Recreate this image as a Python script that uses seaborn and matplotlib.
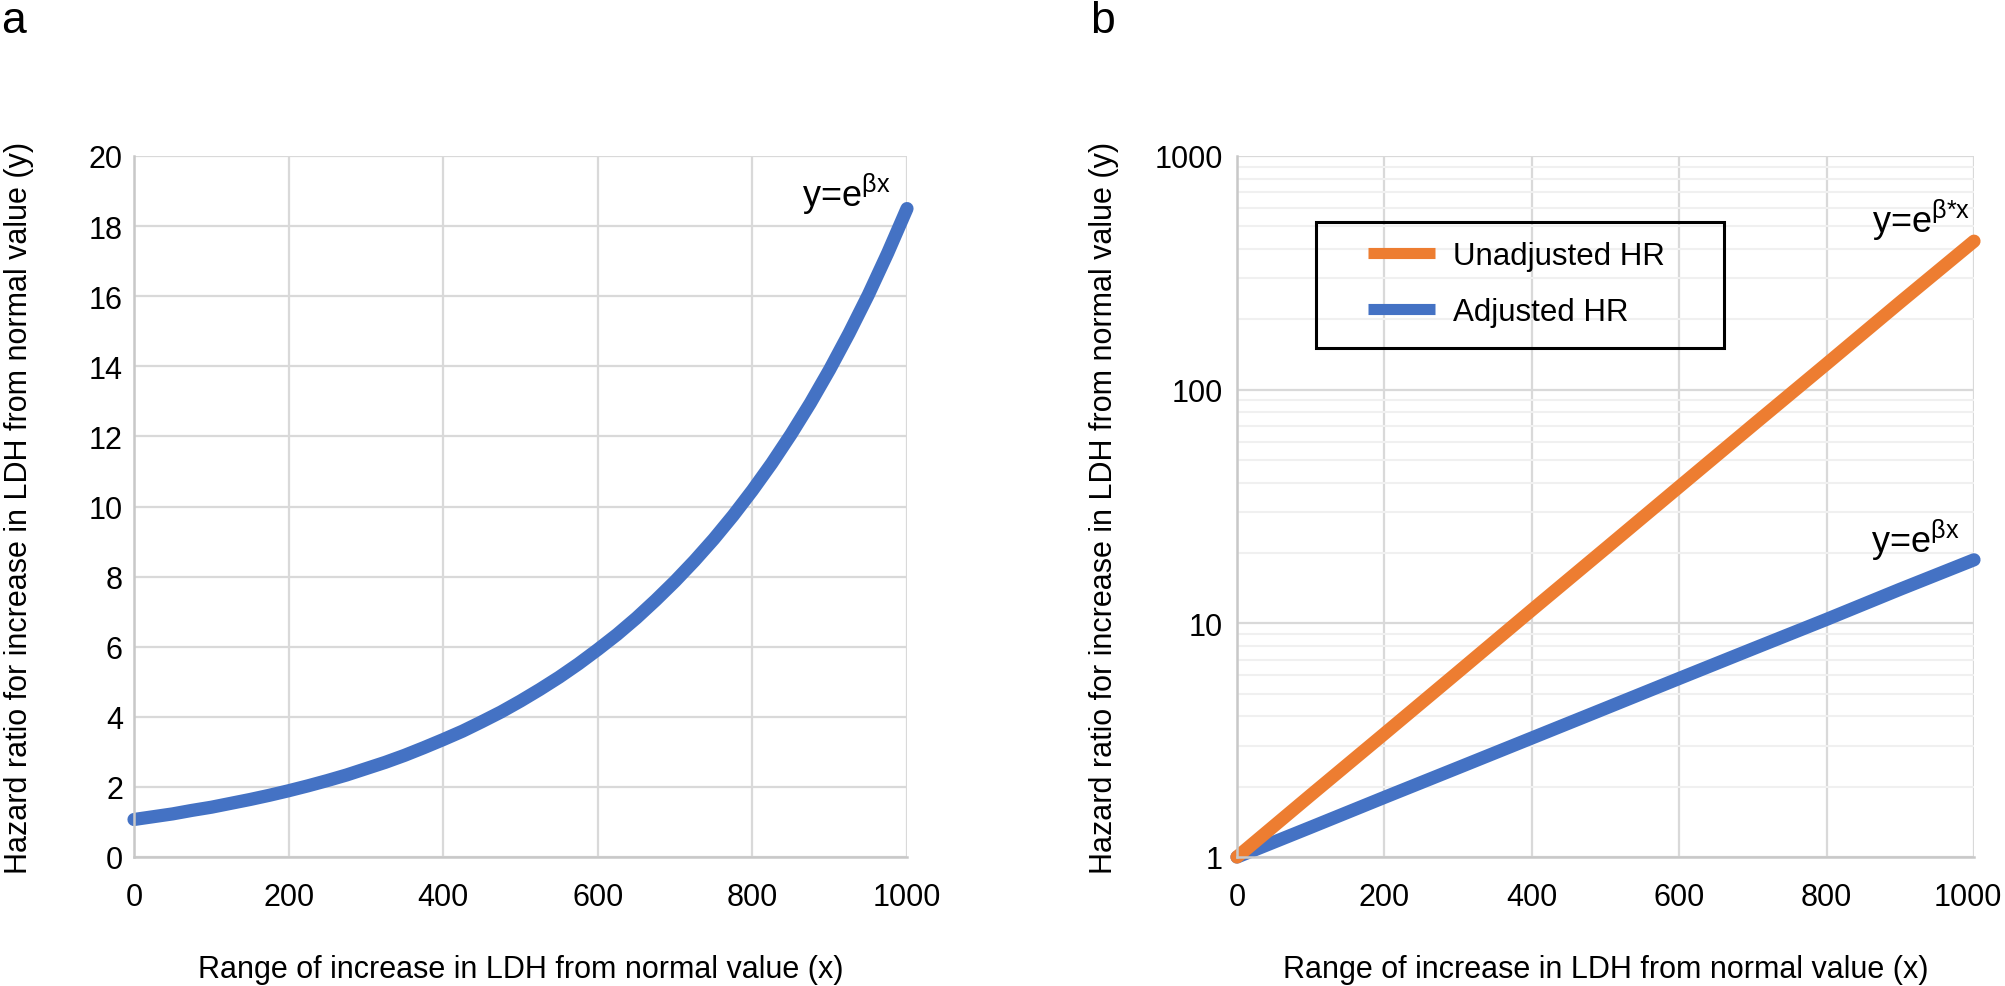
import numpy as np
import pandas as pd
import seaborn as sns
from matplotlib import pyplot as plt
from matplotlib.patches import Rectangle
from matplotlib.ticker import FixedLocator, NullFormatter, LogLocator
from matplotlib.transforms import ScaledTranslation

# values
x_a = list(range(0, 1001, 25))
hr_a = [1.07, 1.15, 1.23, 1.33, 1.42, 1.53, 1.64, 1.76, 1.89, 2.03, 2.18,
        2.34, 2.52, 2.70, 2.90, 3.12, 3.35, 3.59, 3.86, 4.14, 4.45,
        4.78, 5.13, 5.51, 5.92, 6.35, 6.82, 7.33, 7.87, 8.45, 9.07,
        9.74, 10.46, 11.23, 12.06, 12.95, 13.91, 14.94, 16.04, 17.23, 18.50]

x_b = [0, 100, 200, 300, 400, 500, 600, 700, 800, 900, 1000]
hr_unadj = [1.0, 1.84, 3.37, 6.19, 11.4, 20.9, 38.4, 70.5, 129, 237, 432]
hr_adj = [1.0, 1.34, 1.80, 2.41, 3.23, 4.33, 5.81, 7.78, 10.4, 14.0, 18.7]

x_ticks = [0, 200, 400, 600, 800, 1000]
ya_ticks = list(range(0, 21, 2))
yb_ticks = [1, 10, 100, 1000]

BLUE = "#4472C4"
ORANGE = "#ED7D31"
GRID = "#D9D9D9"

sns.set_style("white")
plt.rcParams['font.family'] = ['Liberation Sans', 'DejaVu Sans']
plt.rcParams['mathtext.fontset'] = 'custom'
plt.rcParams['mathtext.rm'] = 'Liberation Sans'
plt.rcParams['mathtext.it'] = 'Liberation Sans'
for k in ['text.color', 'axes.labelcolor', 'xtick.color', 'ytick.color']:
    plt.rcParams[k] = 'black'

W, H = 2006, 987
fig = plt.figure(figsize=(W / 100, H / 100), dpi=100)

def px_axes(x0, x1, y0, y1):
    return fig.add_axes([x0 / W, 1 - y1 / H, (x1 - x0) / W, (y1 - y0) / H])

ax1 = px_axes(134, 907, 157, 858)
ax2 = px_axes(1237, 1974, 157, 858)

xlab = "Range of increase in LDH from normal value (x)"
ylab = "Hazard ratio for increase in LDH from normal value (y)"
LW = 9.5

#Panel a
df_a = pd.DataFrame({"x": x_a, "hr": hr_a})
sns.lineplot(data=df_a, x="x", y="hr", color=BLUE, lw=LW, ax=ax1,
             solid_capstyle="round", solid_joinstyle="round", clip_on=False)
ax1.set_xlim(0, 1000)
ax1.set_ylim(0, 20)
ax1.set_yticks(ya_ticks)
ax1.text(979, 18.57, r"y=e$^{\mathrm{\beta x}}$", ha="right", va="baseline", fontsize=26)

#Panel b
df_b = pd.DataFrame({
    "x": x_b + x_b,
    "hr": hr_adj + hr_unadj,
    "series": ["Adjusted HR"] * len(x_b) + ["Unadjusted HR"] * len(x_b),
})
sns.lineplot(data=df_b, x="x", y="hr", hue="series",
             hue_order=["Adjusted HR", "Unadjusted HR"],
             palette=[BLUE, ORANGE], lw=LW, ax=ax2, legend=False,
             solid_capstyle="round", clip_on=False)
ax2.set_yscale("log")
ax2.set_xlim(0, 1000)
ax2.set_ylim(1, 1000)
ax2.yaxis.set_major_locator(FixedLocator(yb_ticks))
ax2.set_yticklabels([str(t) for t in yb_ticks])
ax2.yaxis.set_minor_locator(LogLocator(base=10, subs=np.arange(2, 10)))
ax2.yaxis.set_minor_formatter(NullFormatter())
ax2.grid(True, which="minor", axis="y", color="#F0F0F0", lw=1.5, zorder=0)
ax2.text(995, 472, r"y=e$^{\mathrm{\beta{*}x}}$", ha="right", va="baseline", fontsize=26)
ax2.text(981, 20.2, r"y=e$^{\mathrm{\beta x}}$", ha="right", va="baseline", fontsize=26)

lines = ax2.get_lines()
leg = ax2.legend([lines[1], lines[0]], ["Unadjusted HR", "Adjusted HR"],
                 loc="upper left", bbox_to_anchor=(1368 / W, 1 - 242 / H),
                 bbox_transform=fig.transFigure, frameon=False, fontsize=22.5,
                 handlelength=2.13, handletextpad=0.6, labelspacing=0.84,
                 borderaxespad=0, borderpad=0)
for h in leg.legend_handles:
    h.set_linewidth(8)
    h.set_solid_capstyle("butt")
fig.patches.append(Rectangle((1316 / W, 1 - 349 / H), 408 / W, 126 / H,
                             transform=fig.transFigure, fill=False,
                             edgecolor="black", lw=2.2, zorder=5))

for ax, ypad in [(ax1, 8), (ax2, 10)]:
    ax.set_xticks(x_ticks)
    ax.grid(True, which="major", color=GRID, lw=1.6, zorder=0)
    ax.set_axisbelow(True)
    for s in ["top", "right"]:
        ax.spines[s].set_visible(False)
    for s in ["left", "bottom"]:
        ax.spines[s].set_color("#C8C8C8")
        ax.spines[s].set_linewidth(1.8)
    ax.tick_params(axis="both", which="both", length=0, labelsize=22)
    ax.tick_params(axis="x", pad=18)
    ax.tick_params(axis="y", pad=ypad)
    ax.set_xlabel(xlab, fontsize=22)
    ax.set_ylabel(ylab, fontsize=22, va="center")
    ax.xaxis.set_label_coords(0.5, -0.138)

# keep the last tick label of panel b inside the picture
fig.canvas.draw()
last = ax2.get_xticklabels()[-1]
last.set_transform(last.get_transform() + ScaledTranslation(-6 / 100, 0, fig.dpi_scale_trans))

ax1.yaxis.set_label_coords((19 - 134) / 773, 0.5)
ax2.yaxis.set_label_coords((1104 - 1237) / 737, 0.5)

fig.text(1 / W, 1 - 33 / H, "a", fontsize=32, ha="left", va="baseline")
fig.text(1090 / W, 1 - 33 / H, "b", fontsize=32, ha="left", va="baseline")

fig.savefig("out.png", dpi=100)
